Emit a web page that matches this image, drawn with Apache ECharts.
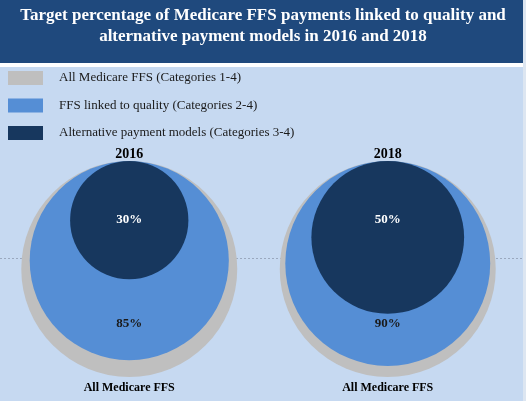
<!DOCTYPE html>
<html>
<head>
<meta charset="utf-8">
<script src="https://cdn.jsdelivr.net/npm/echarts@6/dist/echarts.min.js"></script>
<style>
html,body{margin:0;padding:0;background:#c6d9f1;}
#chart{width:526px;height:401px;}
</style>
</head>
<body>
<div id="chart"></div>
<script>
// ---- data ----
const years = ['2016', '2018'];
const allFFS = [100, 100];           // All Medicare FFS (Categories 1-4)
const linkedQuality = [85, 90];      // FFS linked to quality (Categories 2-4)
const apm = [30, 50];                // Alternative payment models (Categories 3-4)
const seriesNames = [
  'All Medicare FFS (Categories 1-4)',
  'FFS linked to quality (Categories 2-4)',
  'Alternative payment models (Categories 3-4)'
];
const bottomLabel = 'All Medicare FFS';
const titleText = 'Target percentage of Medicare FFS payments linked to quality and\nalternative payment models in 2016 and 2018';

const SERIF = '"Liberation Serif", "Times New Roman", serif';

// circles: area proportional to value, all top-aligned at y = 2 (radius 1 unit == 100%)
function makeRender(labelColor, labelY) {
  return function (params, api) {
    const cat = api.value(0);
    const v = api.value(1);
    const top = api.coord([cat, 2]);
    const r = api.size([0, Math.sqrt(v / 100)])[1];
    const children = [{
      type: 'circle',
      shape: { cx: top[0], cy: top[1] + r, r: r },
      style: { fill: api.visual('color') }
    }];
    if (labelColor) {
      children.push({
        type: 'text',
        z2: 10,
        style: {
          text: v + '%',
          x: top[0],
          y: api.coord([cat, labelY])[1],
          align: 'center',
          verticalAlign: 'middle',
          fill: labelColor,
          font: 'bold 13px ' + SERIF
        }
      });
    }
    return { type: 'group', children: children };
  };
}

const toData = arr => arr.map((v, i) => [i, v]);

const chart = echarts.init(document.getElementById('chart'), null, { renderer: 'canvas' });
chart.setOption({
  backgroundColor: '#c6d9f1',
  animation: false,
  title: {
    text: titleText,
    left: 'center',
    top: 0,
    textStyle: {
      color: '#ffffff',
      fontFamily: SERIF,
      fontWeight: 'bold',
      fontSize: 17,
      lineHeight: 21
    }
  },
  legend: {
    orient: 'vertical',
    left: 3,
    top: 66,
    itemWidth: 35,
    itemHeight: 14,
    itemGap: 13.5,
    icon: 'rect',
    selectedMode: false,
    data: seriesNames,
    textStyle: {
      fontFamily: SERIF,
      fontSize: 13,
      color: '#1a1a1a',
      padding: [0, 0, 0, 11]
    }
  },
  grid: { left: -2, right: 9, top: 161, bottom: 24 },
  xAxis: [
    {
      type: 'category',
      data: years,
      position: 'top',
      axisLine: { show: false },
      axisTick: { show: false },
      splitLine: { show: false },
      axisLabel: { fontFamily: SERIF, fontWeight: 'bold', fontSize: 14, color: '#000', margin: 0 }
    },
    {
      type: 'category',
      data: years,
      position: 'bottom',
      axisLine: { show: false },
      axisTick: { show: false },
      splitLine: { show: false },
      axisLabel: { fontFamily: SERIF, fontWeight: 'bold', fontSize: 12, color: '#000', margin: 5,
        formatter: () => bottomLabel }
    }
  ],
  yAxis: { type: 'value', min: 0, max: 2, show: false },
  graphic: [
    { type: 'rect', z: 0, shape: { x: 0, y: 0, width: 526, height: 63 }, style: { fill: '#1f497d' } },
    { type: 'rect', z: 0, shape: { x: 0, y: 63, width: 526, height: 4 }, style: { fill: '#ffffff' } },
    { type: 'line', z: 0, shape: { x1: 0, y1: 258.5, x2: 526, y2: 258.5 },
      style: { stroke: '#9aa8be', lineWidth: 1, lineDash: [2, 2] } },
    { type: 'rect', z: 100, shape: { x: 523, y: 0, width: 3, height: 401 }, style: { fill: '#dde6f1' } }
  ],
  series: [
    { type: 'custom', name: seriesNames[0], xAxisIndex: 0, itemStyle: { color: '#bfbfbf' },
      renderItem: makeRender(null), data: toData(allFFS) },
    { type: 'custom', name: seriesNames[1], xAxisIndex: 0, itemStyle: { color: '#558ed5' },
      renderItem: makeRender('#1a1a1a', 0.49), data: toData(linkedQuality) },
    { type: 'custom', name: seriesNames[2], xAxisIndex: 0, itemStyle: { color: '#17375e' },
      renderItem: makeRender('#ffffff', 1.46), data: toData(apm) }
  ]
});
</script>
</body>
</html>
